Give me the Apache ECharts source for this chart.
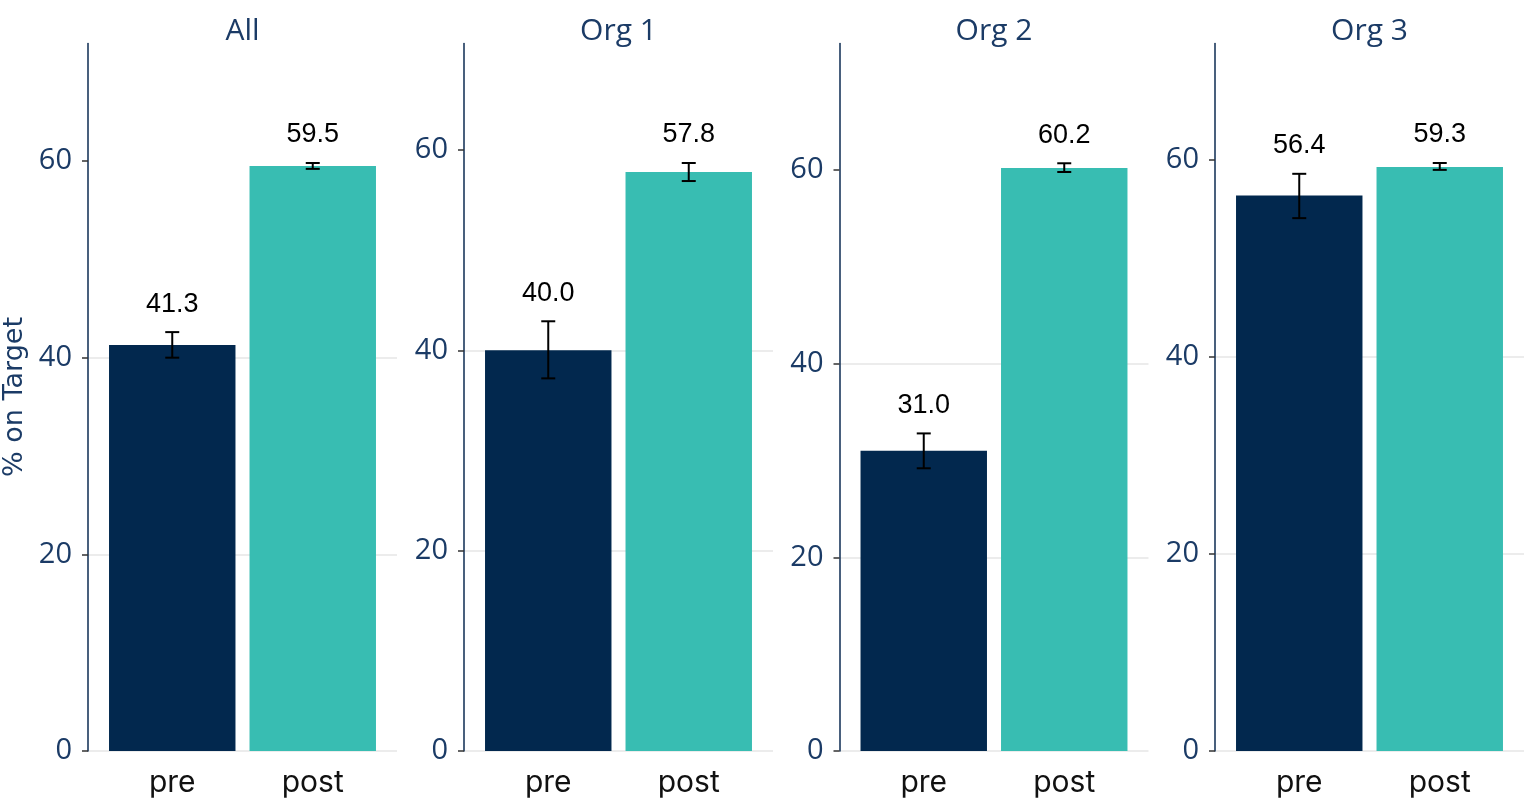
<!DOCTYPE html>
<html>
<head>
<meta charset="utf-8">
<title>% on Target</title>
<script src="https://cdn.jsdelivr.net/npm/echarts@6/dist/echarts.min.js"></script>
<style>
  html, body { margin: 0; padding: 0; background: #fff; }
  #chart { width: 1540px; height: 800px; }
</style>
</head>
<body>
<div id="chart"></div>
<script>
// facet data
const panels = ['All', 'Org 1', 'Org 2', 'Org 3'];
const categories = ['pre', 'post'];
const preValues = [41.3, 40.0, 31.0, 56.4];
const postValues = [59.5, 57.8, 60.2, 59.3];
const preLow = [40.0, 37.2, 29.2, 54.1];
const preHigh = [42.6, 42.9, 32.8, 58.6];
const postLow = [59.2, 56.9, 59.8, 59.0];
const postHigh = [59.8, 58.7, 60.7, 59.7];
const yMax = [71.95, 70.63, 73.07, 71.83];
const yTicks = [0, 20, 40, 60];

// layout
const axisX = [88, 464, 839.5, 1215];
const panelW = 309;
const inset = 14;
const gridTop = 43.5;
const gridBottom = 49;

const navy = '#02284e';
const teal = '#38bdb2';
const textNavy = '#1b3b66';
const themeFont = '"Open Sans"';

const chart = echarts.init(document.getElementById('chart'));

const grid = [], xAxis = [], yAxis = [], series = [], graphic = [];

function renderErr(params, api) {
    const i = api.value(0);
    const lo = api.coord([i, api.value(1)]);
    const hi = api.coord([i, api.value(2)]);
    const w = 7;
    const st = { stroke: '#000', lineWidth: 2 };
    return {
        type: 'group',
        children: [
            { type: 'line', shape: { x1: hi[0], y1: hi[1], x2: lo[0], y2: lo[1] }, style: st },
            { type: 'line', shape: { x1: hi[0] - w, y1: hi[1], x2: hi[0] + w, y2: hi[1] }, style: st },
            { type: 'line', shape: { x1: lo[0] - w, y1: lo[1], x2: lo[0] + w, y2: lo[1] }, style: st },
            {
                type: 'text', x: hi[0], y: hi[1] - 28,
                style: {
                    text: api.value(3).toFixed(1), fill: '#000',
                    fontSize: 27, fontFamily: '"Liberation Sans", Arial',
                    align: 'center', verticalAlign: 'middle'
                }
            }
        ]
    };
}

panels.forEach(function (name, p) {
    // outer grid: y axis, split lines
    grid.push({ left: axisX[p], top: gridTop, width: panelW, bottom: gridBottom, outerBoundsMode: 'none' });
    // inner grid: bars, x labels (ggplot-like discrete expansion)
    grid.push({ left: axisX[p] + inset, top: gridTop, width: panelW - 2 * inset, bottom: gridBottom, outerBoundsMode: 'none' });
    const go = p * 2, gi = p * 2 + 1;

    xAxis.push({ gridIndex: go, type: 'category', data: categories, show: false });
    xAxis.push({
        gridIndex: gi, type: 'category', data: categories,
        axisLine: { show: false }, axisTick: { show: false },
        axisLabel: { fontSize: 30, fontFamily: 'Inter', color: '#111', margin: 17 }
    });

    yAxis.push({
        gridIndex: go, type: 'value', min: 0, max: yMax[p], interval: 20,
        axisLine: { show: true, lineStyle: { color: '#0d2b52', width: 1.5 } },
        axisTick: { show: true, length: 6, customValues: yTicks, lineStyle: { color: '#333', width: 1.5 } },
        axisLabel: { customValues: yTicks, fontSize: 29, fontFamily: themeFont, color: textNavy, margin: 16 },
        splitLine: { show: true, showMaxLine: false, lineStyle: { color: '#e6e6e6', width: 1.5 } }
    });
    yAxis.push({ gridIndex: gi, type: 'value', min: 0, max: yMax[p], show: false, splitLine: { show: false } });

    series.push({
        type: 'bar', xAxisIndex: gi, yAxisIndex: gi, barWidth: '90%',
        data: [
            { value: preValues[p], itemStyle: { color: navy } },
            { value: postValues[p], itemStyle: { color: teal } }
        ],
        silent: true
    });
    series.push({
        type: 'custom', xAxisIndex: gi, yAxisIndex: gi,
        renderItem: renderErr,
        encode: { x: 0, y: [1, 2] },
        data: [
            [0, preLow[p], preHigh[p], preValues[p]],
            [1, postLow[p], postHigh[p], postValues[p]]
        ],
        z: 5, silent: true
    });

    graphic.push({
        type: 'text', x: axisX[p] + panelW / 2, y: 31,
        style: {
            text: name, fontSize: 30, fontFamily: themeFont, fill: textNavy,
            align: 'center', verticalAlign: 'middle'
        }
    });
});

// shared y title
graphic.push({
    type: 'text', x: 15, y: 397, rotation: Math.PI / 2,
    style: {
        text: '% on Target', fontSize: 27, fontFamily: '"DejaVu Sans"', fill: textNavy,
        align: 'center', verticalAlign: 'middle'
    }
});

chart.setOption({
    backgroundColor: '#fff',
    animation: false,
    grid: grid,
    xAxis: xAxis,
    yAxis: yAxis,
    series: series,
    graphic: graphic
});
</script>
</body>
</html>
